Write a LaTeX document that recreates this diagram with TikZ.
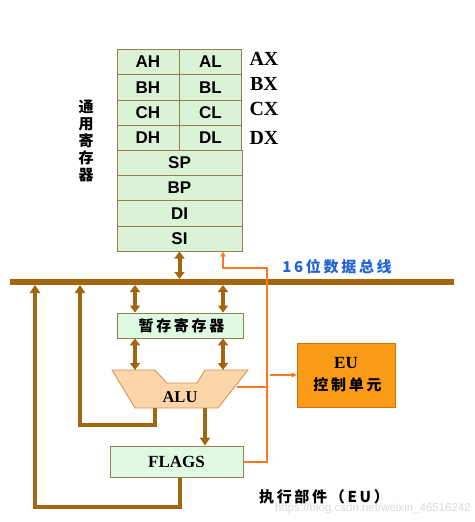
\documentclass[tikz,border=0pt]{standalone}
\usepackage{fontspec}
\setmainfont{Liberation Serif}
\newfontfamily\arialf{Liberation Sans}
\newfontfamily\cjk{Noto Sans CJK SC}
\newfontfamily\cjks{Noto Sans CJK SC}[LetterSpace=18]
\usetikzlibrary{arrows.meta,calc}
\definecolor{busbrown}{RGB}{163,102,14}
\definecolor{regfill}{RGB}{218,243,214}
\definecolor{regdraw}{RGB}{150,125,80}
\definecolor{boxfill}{RGB}{222,250,226}
\definecolor{alufill}{RGB}{252,214,168}
\definecolor{aludraw}{RGB}{205,145,85}
\definecolor{eufill}{RGB}{249,155,22}
\definecolor{eudraw}{RGB}{205,115,20}
\definecolor{orline}{RGB}{250,122,35}
\definecolor{busblue}{RGB}{35,100,210}
\tikzset{
  reg/.style={draw=regdraw, line width=0.8pt, fill=regfill, inner sep=0pt, minimum height=25.2pt,
    font=\arialf\bfseries\fontsize{17}{17}\selectfont},
  half/.style={reg, minimum width=62pt},
  full/.style={reg, minimum width=125pt},
  lbox/.style={draw=regdraw, line width=0.8pt, fill=boxfill, inner sep=0pt},
  xlabel/.style={font=\bfseries\fontsize{20}{20}\selectfont, inner sep=0pt},
  thick brown/.style={draw=busbrown, line width=4pt, line join=miter},
  upar/.style={thick brown, -{Triangle[width=10pt,length=8pt]}},
  dblar/.style={thick brown, {Triangle[width=10pt,length=7pt]}-{Triangle[width=10pt,length=7pt]}},
  orl/.style={draw=orline, line width=1.4pt, line join=miter},
}
\begin{document}
\begin{tikzpicture}[x=1pt,y=-1pt]
\useasboundingbox (0,0) rectangle (474,522);
% register file
\node[half] (AH) at (148,62.1) {AH};
\node[half] (AL) at (210.5,62.1) {AL};
\node[half] (BH) at (148,87.3) {BH};
\node[half] (BL) at (210.5,87.3) {BL};
\node[half] (CH) at (148,112.5) {CH};
\node[half] (CL) at (210.5,112.5) {CL};
\node[half] (DH) at (148,137.7) {DH};
\node[half] (DL) at (210.5,137.7) {DL};
\node[full] (SP) at (179.5,162.9) {SP};
\node[full] (BP) at (179.5,188.1) {BP};
\node[full] (DI) at (179.5,213.3) {DI};
\node[full] (SI) at (179.5,238.5) {SI};
\node[xlabel] (AX) at (264,59) {AX};
\node[xlabel] (BX) at (264,84) {BX};
\node[xlabel] (CX) at (264,109) {CX};
\node[xlabel] (DX) at (264,138) {DX};
\node[inner sep=0pt, align=center, font=\cjk\bfseries\fontsize{15}{17}\selectfont] (gen) at (86,141) {通\\用\\寄\\存\\器};
% bus
\coordinate (busL) at (10,282);
\coordinate (busR) at (454,282);
\draw[draw=busbrown, line width=5.5pt] (busL) -- (busR);
\node[font=\cjks\bfseries\fontsize{15}{15}\selectfont, text=busblue, inner sep=0pt] (buslabel) at (337,267) {16位数据总线};
% temp register
\node[lbox, minimum width=126pt, minimum height=25pt, font=\cjks\bfseries\fontsize{15}{15}\selectfont] (tmp) at (180,325.5) {\hspace{3pt}暂存寄存器};
% ALU
\draw[draw=aludraw, line width=0.8pt, fill=alufill]
  (112,370) -- (155,370) -- (167,383) -- (197,383) -- (205,370) -- (248,370) -- (218,408) -- (135,408) -- cycle;
\node[font=\bfseries\fontsize{16.5}{16.5}\selectfont, inner sep=0pt] (alu) at (180,397) {ALU};
% FLAGS
\node[lbox, minimum width=133pt, minimum height=31pt, font=\bfseries\fontsize{17}{17}\selectfont] (flags) at (176.5,461.5) {FLAGS};
% EU control
\node[draw=eudraw, line width=0.8pt, fill=eufill, minimum width=98pt, minimum height=64pt, inner sep=0pt, align=center,
  font=\bfseries\fontsize{17}{22}\selectfont] (eu) at (346,375) {EU\\{\cjks\bfseries\fontsize{15}{15}\selectfont\hspace{3pt}控制单元}};
\node[font=\cjks\bfseries\fontsize{15}{15}\selectfont, inner sep=0pt] (eulabel) at (324,497) {执行部件（EU）};
\node[font=\arialf\fontsize{11.5}{11.5}\selectfont, text=black!15, inner sep=0pt, anchor=east] (wm) at (471,509) {https://blog.csdn.net/weixin\_46516242};
% brown connectors
\draw[dblar] (SI.south) -- (SI.south |- 0,279);
\draw[dblar] (135,285) -- (tmp.north -| 135,0);
\draw[dblar] (223,285) -- (tmp.north -| 223,0);
\draw[dblar] (tmp.south -| 135,0) -- (135,370);
\draw[dblar] (tmp.south -| 223,0) -- (223,370);
\draw[upar] (205,408) -- (flags.north -| 205,0);
\draw[upar] (155,408) -- (155,425) -- (80,425) -- (80,285);
\draw[upar] (flags.south -| 180,0) -- (180,507) -- (35,507) -- (35,285);
% orange control lines
\draw[orl, -{Triangle[width=5pt,length=5pt]}] (flags.east |- 0,462) -- (267,462) -- (267,268) -- (223,268) -- (SI.south -| 223,0);
\draw[orl] (237,387) -- (267,387);
\draw[orl, -{Triangle[width=5pt,length=5pt]}] (270,375) -- (eu.west);
\end{tikzpicture}
\end{document}
